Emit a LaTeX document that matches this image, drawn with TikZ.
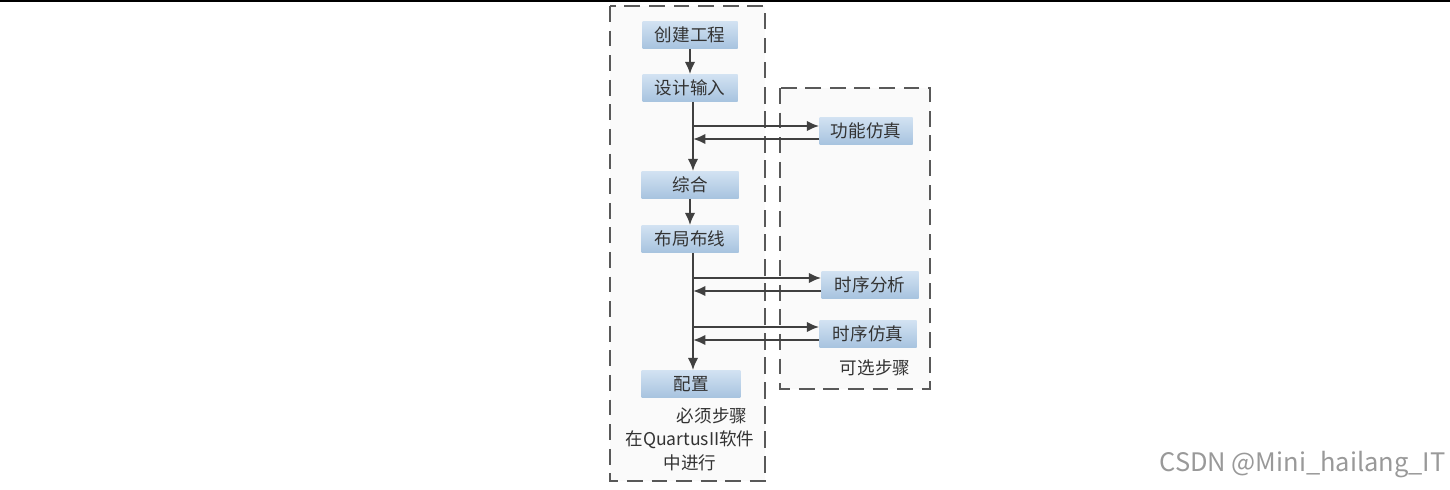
\documentclass[tikz,border=0pt]{standalone}
\usepackage{fontspec}
\setmainfont{Noto Sans CJK SC}
\usetikzlibrary{arrows.meta}
\definecolor{btop}{HTML}{D2E2F2}
\definecolor{bbot}{HTML}{A7C3DF}
\begin{document}
\begin{tikzpicture}[x=0.02cm,y=-0.02cm,
  box/.style={draw=none,top color=btop,bottom color=bbot,minimum height=0.54cm,inner sep=0pt,font=\fontsize{10}{11}\selectfont,text=black!80},
  frame/.style={draw=black!65,dash pattern=on 9pt off 5pt,line width=0.8pt,fill=black!2},
  arr/.style={draw=black!75,line width=1.2pt,-{Latex[length=7pt,width=6pt]}},
  lbl/.style={font=\fontsize{10}{11}\selectfont,text=black!80,inner sep=0pt}]
\useasboundingbox (0,0) rectangle (1450,490);
\draw[black,line width=0.8pt] (0,1) -- (1450,1);
\draw[frame] (610,6) rectangle (765,481);
\draw[frame] (780,88) rectangle (930,389);
\draw[black!65,dash pattern=on 9pt off 5pt,line width=0.8pt] (765,88) -- (765,481);
\node[box,minimum width=1.9cm] (a) at (690,35) {创建工程};
\node[box,minimum width=1.9cm] (b) at (690,88) {设计输入};
\node[box,minimum width=1.86cm] (f) at (866,131) {功能仿真};
\node[box,minimum width=1.94cm] (c) at (690,185) {综合};
\node[box,minimum width=1.94cm] (d) at (690,239) {布局布线};
\node[box,minimum width=1.94cm] (t) at (870,285) {时序分析};
\node[box,minimum width=1.94cm] (s) at (868,334) {时序仿真};
\node[box,minimum width=1.98cm] (e) at (691,384) {配置};
\coordinate (bx) at (693,88);
\coordinate (dx) at (693,239);
\draw[arr] (a) -- (b);
\draw[arr] (bx|-b.south) -- (bx|-c.north);
\draw[arr] (c) -- (d);
\draw[arr] (dx|-d.south) -- (dx|-e.north);
\draw[arr] (693,126) -- (f.west|-0,126);
\draw[arr] (f.west|-0,139) -- (693,139);
\draw[arr] (693,278) -- (t.west|-0,278);
\draw[arr] (t.west|-0,291) -- (693,291);
\draw[arr] (693,327) -- (s.west|-0,327);
\draw[arr] (s.west|-0,340) -- (693,340);
\node[lbl] (o) at (875,368) {可选步骤};
\node[lbl] (m1) at (712,416) {必须步骤};
\node[lbl] (m2) at (690,440) {在QuartusII软件};
\node[lbl] (m3) at (690,463) {中进行};
\node[font=\fontsize{14.5}{16}\selectfont,text=black!40,anchor=east,inner sep=0pt] (w) at (1446,465) {CSDN @Mini\_hailang\_IT};
\end{tikzpicture}
\end{document}
